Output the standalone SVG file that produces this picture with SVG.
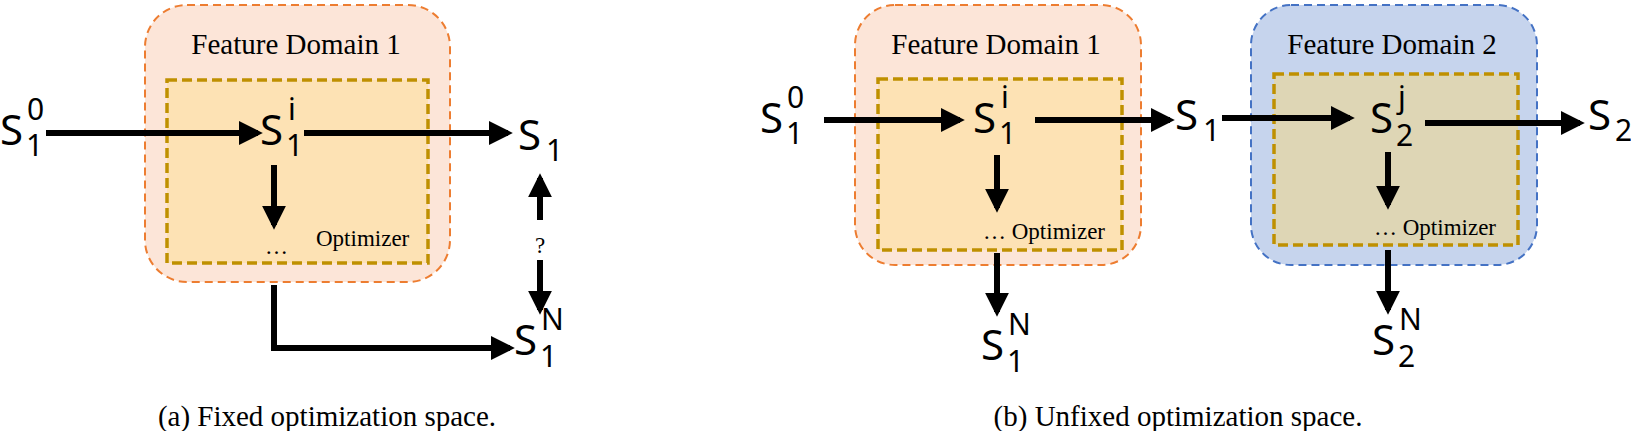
<svg xmlns="http://www.w3.org/2000/svg" width="1631" height="431" viewBox="0 0 1631 431">
<style>
.s{font-family:"Noto Sans","DejaVu Sans",sans-serif;font-size:42px;fill:#000}
.sub{font-size:30px}
.t{font-family:"Liberation Serif",serif;font-size:29px;fill:#000}
.o{font-family:"Liberation Serif",serif;font-size:23px;fill:#000}
.fo{fill:#fce5d8;stroke:#ed7d31;stroke-width:2;stroke-dasharray:8 5}
.fb{fill:#c6d4ed;stroke:#4472c4;stroke-width:2;stroke-dasharray:8 5}
.in{fill:#fde2ae;fill-opacity:.85;stroke:#bf9000;stroke-width:3.5;stroke-dasharray:10 5}
.inb{fill:#ded6b5;stroke:#bf9000;stroke-width:3.5;stroke-dasharray:10 5}
.c{stroke:#000;stroke-width:6;fill:none}
</style>
<defs><marker id="a" markerWidth="4" markerHeight="4" refX="3.2" refY="2" orient="auto" markerUnits="strokeWidth"><path d="M0,0 L4,2 L0,4 z" fill="#000"/></marker></defs>
<g id="fd1a"><rect class="fo" x="145" y="5" width="305" height="277" rx="42"/><text class="t" x="296" y="54" text-anchor="middle">Feature Domain 1</text></g>
<g id="opt1a"><rect class="in" x="167" y="80" width="261" height="183"/><text class="o" x="316" y="246">Optimizer</text><text class="o" x="265" y="254">…</text></g>
<g id="fd1b"><rect class="fo" x="855" y="5" width="286" height="260" rx="40"/><text class="t" x="996" y="54" text-anchor="middle">Feature Domain 1</text></g>
<g id="opt1b"><rect class="in" x="878" y="79" width="244" height="171"/><text class="o" x="983" y="239">… Optimizer</text></g>
<g id="fd2"><rect class="fb" x="1251" y="5" width="286" height="260" rx="40"/><text class="t" x="1392" y="54" text-anchor="middle">Feature Domain 2</text></g>
<g id="opt2"><rect class="inb" x="1274" y="74" width="244" height="171"/><text class="o" x="1374" y="235">…  Optimizer</text></g>
<g id="connectors">
<path class="c" d="M46,133 H258" marker-end="url(#a)"/>
<path class="c" d="M304,133 H508" marker-end="url(#a)"/>
<path class="c" d="M274,165 V225" marker-end="url(#a)"/>
<path class="c" d="M274,285 V348 H510" marker-end="url(#a)"/>
<path class="c" d="M540,220 V178" marker-end="url(#a)"/>
<path class="c" d="M540,260 V310" marker-end="url(#a)"/>
<path class="c" d="M824,120 H960" marker-end="url(#a)"/>
<path class="c" d="M1035,120 H1170" marker-end="url(#a)"/>
<path class="c" d="M997,155 V208" marker-end="url(#a)"/>
<path class="c" d="M997,253 V312" marker-end="url(#a)"/>
<path class="c" d="M1222,118 H1350" marker-end="url(#a)"/>
<path class="c" d="M1425,123 H1580" marker-end="url(#a)"/>
<path class="c" d="M1388,152 V205" marker-end="url(#a)"/>
<path class="c" d="M1388,250 V310" marker-end="url(#a)"/>
</g>
<g id="s10a"><text class="s" x="0" y="145">S</text><text class="s sub" x="27" y="120">0</text><text class="s sub" x="26" y="156">1</text></g>
<g id="s1ia"><text class="s" x="260" y="145">S</text><text class="s sub" x="288" y="120">i</text><text class="s sub" x="286" y="156">1</text></g>
<g id="s1a"><text class="s" x="518" y="150">S</text><text class="s sub" x="546" y="161">1</text></g>
<g id="q"><text class="o" x="540" y="253" text-anchor="middle" font-size="17">?</text></g>
<g id="s1na"><text class="s" x="514" y="355">S</text><text class="s sub" x="541" y="330">N</text><text class="s sub" x="540" y="367">1</text></g>
<text class="t" x="327" y="426" text-anchor="middle">(a) Fixed optimization space.</text>
<g id="s10b"><text class="s" x="760" y="133">S</text><text class="s sub" x="787" y="108">0</text><text class="s sub" x="786" y="144">1</text></g>
<g id="s1ib"><text class="s" x="973" y="133">S</text><text class="s sub" x="1001" y="108">i</text><text class="s sub" x="999" y="144">1</text></g>
<g id="s1b"><text class="s" x="1175" y="130">S</text><text class="s sub" x="1203" y="141">1</text></g>
<g id="s1nb"><text class="s" x="981" y="360">S</text><text class="s sub" x="1008" y="335">N</text><text class="s sub" x="1007" y="372">1</text></g>
<g id="s2j"><text class="s" x="1370" y="133">S</text><text class="s sub" x="1398" y="108">j</text><text class="s sub" x="1396" y="146">2</text></g>
<g id="s2"><text class="s" x="1588" y="130">S</text><text class="s sub" x="1615" y="141">2</text></g>
<g id="s2n"><text class="s" x="1372" y="355">S</text><text class="s sub" x="1399" y="330">N</text><text class="s sub" x="1398" y="367">2</text></g>
<text class="t" x="1178" y="426" text-anchor="middle">(b) Unfixed optimization space.</text>
</svg>
